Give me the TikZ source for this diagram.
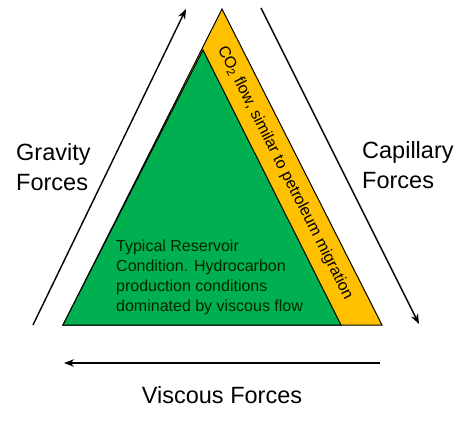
\documentclass[tikz,border=0pt]{standalone}
\usepackage{fontspec}
\setmainfont{Liberation Sans}
\usetikzlibrary{arrows.meta}
\definecolor{tgreen}{HTML}{00B050}
\definecolor{tgold}{HTML}{FFC000}
\begin{document}
\begin{tikzpicture}[x=1pt,y=-1pt,
  force/.style={font=\fontsize{23.5}{30}\selectfont, align=left, inner sep=0pt},
  arr/.style={line width=1.4pt, -{Stealth[length=10pt,width=7.5pt]}},
  tri/.style={line width=1pt, draw=black, line join=miter},
]
\useasboundingbox (0,0) rectangle (474,425);
% triangles
\coordinate (L) at (63,325);
\coordinate (A) at (222,9);
\coordinate (R) at (382,325);
\coordinate (GA) at (203,50);
\coordinate (GR) at (341,325);
\filldraw[tri, fill=tgold] (L) -- (A) -- (R) -- cycle;
\filldraw[tri, fill=tgreen] (L) -- (GA) -- (GR) -- cycle;
% arrows
\coordinate (la0) at (33,325);
\coordinate (la1) at (186,9);
\coordinate (ra0) at (261,8);
\coordinate (ra1) at (419,324);
\coordinate (ba0) at (380,363);
\coordinate (ba1) at (64,363);
\draw[arr] (la0) -- (la1);
\draw[arr] (ra0) -- (ra1);
\draw[arr] (ba0) -- (ba1);
% labels
\node[force, anchor=north west] (grav) at (16,143) {Gravity\\Forces};
\node[force, anchor=north west] (cap) at (362,141) {Capillary\\Forces};
\node[force, anchor=base] (visc) at (222,403) {Viscous Forces};
\node[font=\fontsize{16}{20}\selectfont, align=left, inner sep=0pt, anchor=north west, text=black!85!green] (typ) at (116,240)
  {Typical Reservoir\\Condition. Hydrocarbon\\production conditions\\dominated by viscous flow};
\node[font=\fontsize{16}{20}\selectfont, inner sep=0pt, rotate=-63.1] (co2) at (285,173)
  {CO\textsubscript{2} flow, similar to petroleum migration};
\end{tikzpicture}
\end{document}
